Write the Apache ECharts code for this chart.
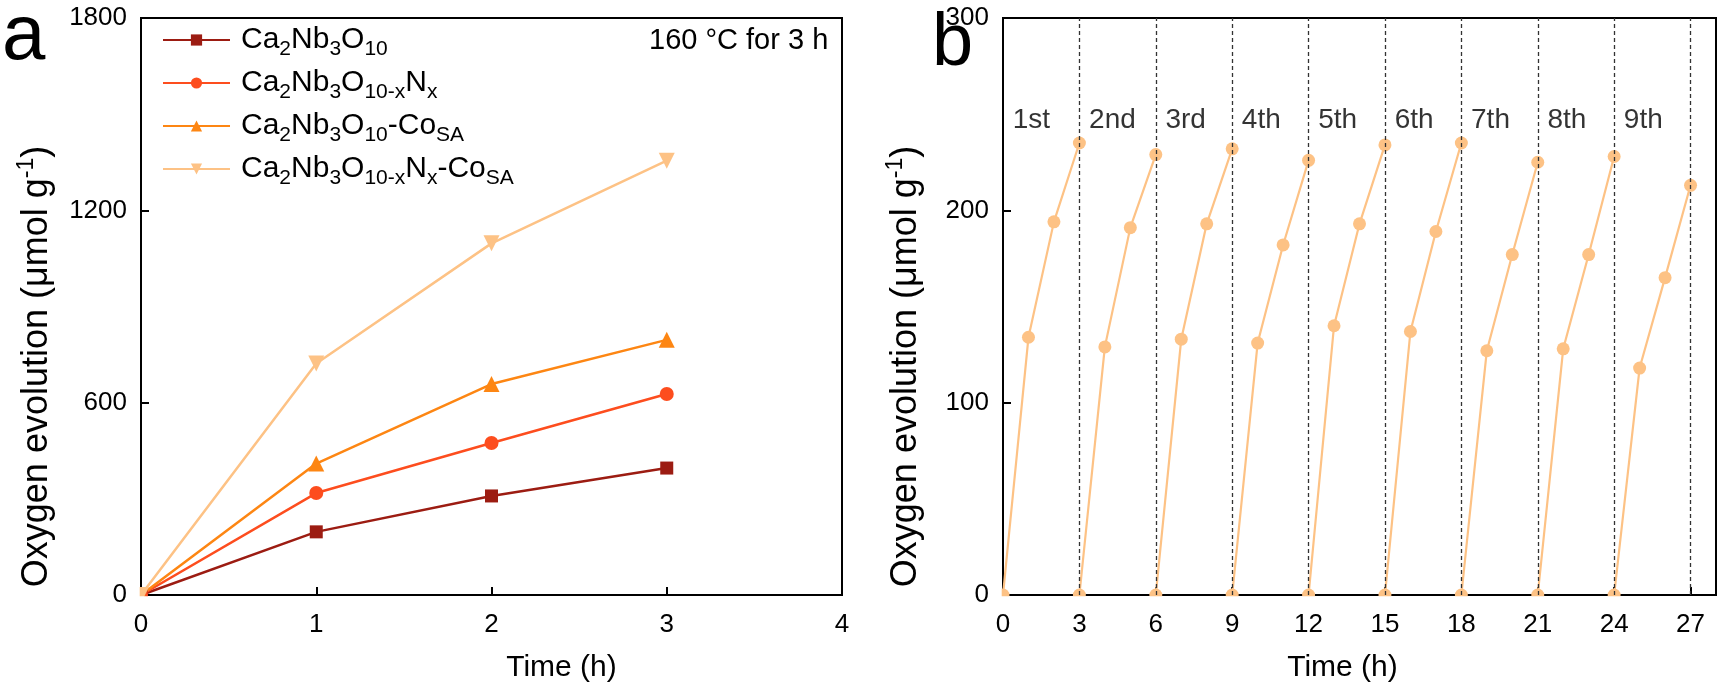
<!DOCTYPE html>
<html>
<head>
<meta charset="utf-8">
<script src="https://cdn.jsdelivr.net/npm/echarts@6/dist/echarts.min.js"></script>
<style>
  html, body { margin: 0; padding: 0; background: #fff; }
  #main { width: 1725px; height: 692px; }
</style>
</head>
<body>
<div id="main"></div>
<script>
// panel a: oxygen evolution vs time, 4 samples
var timeA = [0, 1, 2, 3];
var cnoVals = [0, 197, 309, 396];
var cnoNVals = [0, 318, 474, 627];
var cnoCoVals = [0, 410, 658, 796];
var cnoNCoVals = [0, 722, 1097, 1355];
var namesA = [
  'Ca{s|2}Nb{s|3}O{s|10}',
  'Ca{s|2}Nb{s|3}O{s|10-x}N{s|x}',
  'Ca{s|2}Nb{s|3}O{s|10}-Co{s|SA}',
  'Ca{s|2}Nb{s|3}O{s|10-x}N{s|x}-Co{s|SA}'
];

// panel b: 9 cycles of 3 h, values at 0,1,2,3 h of each cycle
var cycleVals = [
  [0, 134, 194, 235],
  [0, 129, 191, 229],
  [0, 133, 193, 232],
  [0, 131, 182, 226],
  [0, 140, 193, 234],
  [0, 137, 189, 235],
  [0, 127, 177, 225],
  [0, 128, 177, 228],
  [0, 118, 165, 213]
];
var cycleNames = ['1st', '2nd', '3rd', '4th', '5th', '6th', '7th', '8th', '9th'];
var cycleEnds = [3, 6, 9, 12, 15, 18, 21, 24, 27];

var NARROW = "'Liberation Sans Narrow', 'Arial Narrow', 'Liberation Sans', Arial, sans-serif";
var SANS = "'Liberation Sans', Arial, sans-serif";
var colors = ['#9c1c12', '#fd4d1e', '#fd8613', '#fdc285'];

function pairs(xs, ys) {
  return xs.map(function(x, i) { return [x, ys[i]]; });
}

// cycle data with gaps between cycles
var cycleData = [];
cycleVals.forEach(function(c, i) {
  c.forEach(function(v, j) { cycleData.push([3 * i + j, v]); });
  cycleData.push([3 * i + 3, '-']);
});

var axisCommon = {
  axisLine: { lineStyle: { color: '#000', width: 2 } },
  axisTick: { inside: true, length: 8, lineStyle: { color: '#000', width: 2 } },
  splitLine: { show: false }
};
function tickLabel(margin, extra) {
  return Object.assign({
    color: '#000', fontSize: 26, fontFamily: NARROW, margin: margin,
    formatter: function(v) { return String(v); }
  }, extra || {});
}

function yName(gap) {
  return {
    name: 'Oxygen evolution (μmol g{sup|-1})',
    nameLocation: 'middle',
    nameGap: gap,
    nameTextStyle: {
      color: '#000', fontSize: 36, fontFamily: SANS, lineHeight: 44,
      padding: [0, 120, 0, 0],
      rich: { sup: { fontSize: 23, lineHeight: 23, verticalAlign: 'top', fontFamily: SANS } }
    }
  };
}

var chart = echarts.init(document.getElementById('main'));

var option = {
  animation: false,
  backgroundColor: '#fff',
  grid: [
    { left: 141, top: 18, width: 701, height: 577, show: true, borderColor: '#000', borderWidth: 2 },
    { left: 1003, top: 18, width: 713, height: 577, show: true, borderColor: '#000', borderWidth: 2 }
  ],
  legend: {
    orient: 'vertical',
    left: 157, top: 15,
    itemWidth: 67, itemHeight: 14, itemGap: 3,
    data: namesA,
    formatter: function(n) { return n; },
    textStyle: {
      color: '#000', fontSize: 30, fontFamily: SANS, lineHeight: 40, padding: [0, 0, 0, 6],
      rich: { s: { fontSize: 21, lineHeight: 21, verticalAlign: 'bottom', fontFamily: SANS } }
    }
  },
  xAxis: [
    Object.assign({}, axisCommon, {
      gridIndex: 0, type: 'value', min: 0, max: 4, interval: 1,
      name: 'Time (h)', nameLocation: 'middle', nameGap: 58,
      nameTextStyle: { color: '#000', fontSize: 30, fontFamily: NARROW, padding: [0, 0, 0, 140] },
      axisLabel: tickLabel(17)
    }),
    Object.assign({}, axisCommon, {
      gridIndex: 1, type: 'value', min: 0, max: 28, interval: 3,
      name: 'Time (h)', nameLocation: 'middle', nameGap: 58,
      nameTextStyle: { color: '#000', fontSize: 30, fontFamily: NARROW, padding: [0, 34, 0, 0] },
      axisLabel: tickLabel(17, { showMaxLabel: false })
    })
  ],
  yAxis: [
    Object.assign({}, axisCommon, yName(82), {
      gridIndex: 0, type: 'value', min: 0, max: 1800, interval: 600,
      axisLabel: tickLabel(14)
    }),
    Object.assign({}, axisCommon, yName(75), {
      gridIndex: 1, type: 'value', min: 0, max: 300, interval: 100,
      axisLabel: tickLabel(14)
    })
  ],
  series: [
    {
      name: namesA[0], type: 'line', xAxisIndex: 0, yAxisIndex: 0,
      data: pairs(timeA, cnoVals), symbol: 'rect', symbolSize: 13,
      itemStyle: { color: colors[0] }, lineStyle: { color: colors[0], width: 2.5 }
    },
    {
      name: namesA[1], type: 'line', xAxisIndex: 0, yAxisIndex: 0,
      data: pairs(timeA, cnoNVals), symbol: 'circle', symbolSize: 14,
      itemStyle: { color: colors[1] }, lineStyle: { color: colors[1], width: 2.5 }
    },
    {
      name: namesA[2], type: 'line', xAxisIndex: 0, yAxisIndex: 0,
      data: pairs(timeA, cnoCoVals), symbol: 'triangle', symbolSize: 16,
      itemStyle: { color: colors[2] }, lineStyle: { color: colors[2], width: 2.5 }
    },
    {
      name: namesA[3], type: 'line', xAxisIndex: 0, yAxisIndex: 0,
      data: pairs(timeA, cnoNCoVals), symbol: 'triangle', symbolRotate: 180, symbolSize: 16,
      itemStyle: { color: colors[3] }, lineStyle: { color: colors[3], width: 2.5 }
    },
    {
      name: 'cycles', type: 'line', xAxisIndex: 1, yAxisIndex: 1,
      data: cycleData, connectNulls: false, symbol: 'circle', symbolSize: 13,
      itemStyle: { color: colors[3] }, lineStyle: { color: colors[3], width: 2.2 },
      markLine: {
        silent: true, symbol: ['none', 'none'], label: { show: false },
        lineStyle: { color: '#333', width: 1.3, type: [4, 3] },
        data: cycleEnds.map(function(x) { return { xAxis: x }; })
      }
    },
    {
      name: 'cycle labels', type: 'scatter', xAxisIndex: 1, yAxisIndex: 1,
      symbolSize: 0, silent: true,
      data: cycleNames.map(function(n, i) { return { name: n, value: [3 * i + 0.38, 247] }; }),
      label: { show: true, position: 'right', distance: 0, formatter: '{b}', color: '#000', fontSize: 28, fontFamily: NARROW }
    }
  ],
  graphic: [
    { id: 'la', type: 'text', left: 2, top: -2, z: 100, style: { text: 'a', fontSize: 78, fontFamily: SANS, fill: '#000' } },
    { id: 'lb', type: 'text', left: 932, top: 8, z: 100, style: { text: 'b', fontSize: 74, fontFamily: SANS, fill: '#000' } },
    { id: 'cond', type: 'text', left: 649, top: 26, z: 100, style: { text: '160 °C for 3 h', fontSize: 29, fontFamily: SANS, fill: '#000' } }
  ]
};

chart.setOption(option);

// hide the parts of the markers sitting outside the axes (as in the original plot)
function masks(ax, x0v, x1v) {
  var x0 = chart.convertToPixel({ xAxisIndex: ax }, x0v);
  var x1 = chart.convertToPixel({ xAxisIndex: ax }, x1v);
  var y0 = chart.convertToPixel({ yAxisIndex: ax }, 0);
  var yTop = 18;
  return [
    { id: 'mb' + ax, type: 'rect', z: 100, shape: { x: x0 - 12, y: y0 + 1.3, width: x1 - x0 + 12, height: 8 }, style: { fill: '#fff' } },
    { id: 'ml' + ax, type: 'rect', z: 100, shape: { x: x0 - 10, y: yTop, width: 8.7, height: y0 - yTop + 10 }, style: { fill: '#fff' } }
  ];
}
chart.setOption({ graphic: masks(0, 0, 4).concat(masks(1, 0, 28)) });
</script>
</body>
</html>
